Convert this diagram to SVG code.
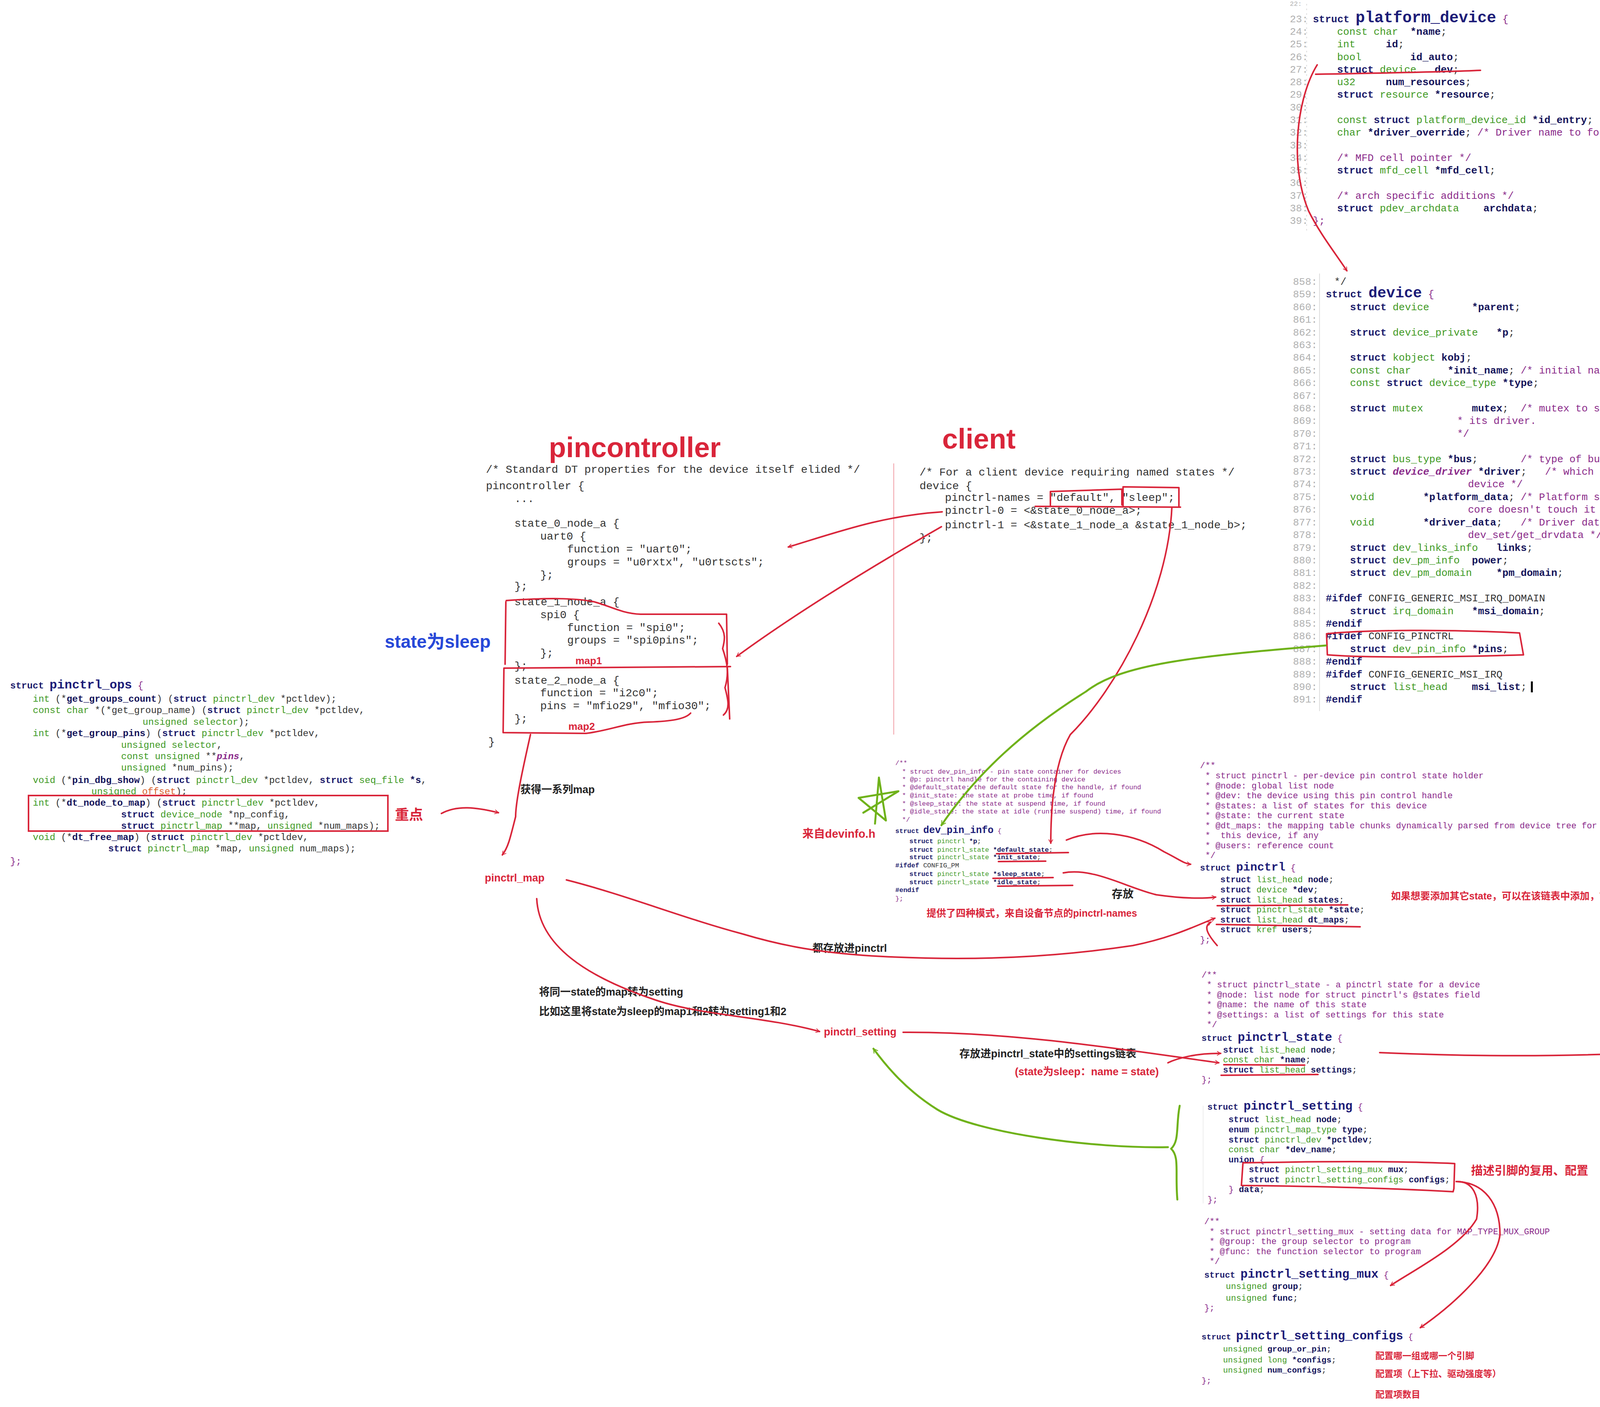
<svg xmlns="http://www.w3.org/2000/svg" width="5721" height="3601" viewBox="0 0 5721 3601">
<style>
text{font-family:"Liberation Mono","DejaVu Sans Mono",monospace;white-space:pre}
.c26{font-size:26px}.c24{font-size:24px}.c22{font-size:22px}.c21{font-size:21px}.c20{font-size:20px}.c17{font-size:17px}
.k{fill:#1b1b6b;font-weight:bold}.t{fill:#3f9a24}.f{fill:#14145a;font-weight:bold}.cm{fill:#8a2a8a}.p{fill:#333}
.ln{fill:#b0b0b0}.ti{fill:#1c1c78;font-weight:bold}
.dt{font-family:"Liberation Mono",monospace;font-size:28px;fill:#333}
.cn{font-family:"Liberation Sans","Noto Sans CJK SC",sans-serif;font-weight:bold}
.r{fill:#d9253a}.b{fill:#222}
.rl{fill:none;stroke:#d9253a;stroke-width:4;stroke-linecap:round;stroke-linejoin:round}
.gl{fill:none;stroke:#6fb21a;stroke-width:5;stroke-linecap:round;stroke-linejoin:round}
.box{fill:#fff;stroke:#d9253a;stroke-width:5}
.bt{font-family:"Open Sans","Liberation Sans",sans-serif;font-size:30px;fill:#333;text-anchor:middle}
</style>
<defs>
<marker id="ra" viewBox="0 0 20 20" refX="18" refY="10" markerWidth="12" markerHeight="12" orient="auto" markerUnits="userSpaceOnUse"><path d="M2,1 L18,10 L2,19" fill="none" stroke="#d9253a" stroke-width="3"/></marker>
<marker id="ga" viewBox="0 0 20 20" refX="18" refY="10" markerWidth="14" markerHeight="14" orient="auto" markerUnits="userSpaceOnUse"><path d="M2,1 L18,10 L2,19" fill="none" stroke="#6fb21a" stroke-width="3"/></marker>
<marker id="sa" viewBox="0 0 10 10" refX="9" refY="5" markerWidth="30" markerHeight="30" orient="auto" markerUnits="userSpaceOnUse"><path d="M0,0 L10,5 L0,10 Z" fill="#555"/></marker>
</defs>

<g id="platform_device" class="c26">
<line x1="3345" y1="10" x2="3345" y2="590" stroke="#ddd" stroke-width="2" stroke-dasharray="4 8"/>
<text x="3302" y="15" class="ln c17">22:</text>
<text x="3302" y="57"><tspan class="ln">23:</tspan><tspan x="3361" class="k">struct </tspan><tspan class="ti" font-size="40">platform_device</tspan><tspan class="cm"> {</tspan></text>
<text x="3302" y="89"><tspan class="ln">24:</tspan><tspan x="3423" class="t">const char  </tspan><tspan class="f">*name</tspan><tspan class="p">;</tspan></text>
<text x="3302" y="121"><tspan class="ln">25:</tspan><tspan x="3423" class="t">int     </tspan><tspan class="f">id</tspan><tspan class="p">;</tspan></text>
<text x="3302" y="154"><tspan class="ln">26:</tspan><tspan x="3423" class="t">bool        </tspan><tspan class="f">id_auto</tspan><tspan class="p">;</tspan></text>
<text x="3302" y="186"><tspan class="ln">27:</tspan><tspan x="3423" class="k">struct </tspan><tspan class="t">device   </tspan><tspan class="f">dev</tspan><tspan class="p">;</tspan></text>
<text x="3302" y="218"><tspan class="ln">28:</tspan><tspan x="3423" class="t">u32     </tspan><tspan class="f">num_resources</tspan><tspan class="p">;</tspan></text>
<text x="3302" y="250"><tspan class="ln">29:</tspan><tspan x="3423" class="k">struct </tspan><tspan class="t">resource </tspan><tspan class="f">*resource</tspan><tspan class="p">;</tspan></text>
<text x="3302" y="283" class="ln">30:</text>
<text x="3302" y="315"><tspan class="ln">31:</tspan><tspan x="3423" class="t">const </tspan><tspan class="k">struct </tspan><tspan class="t">platform_device_id </tspan><tspan class="f">*id_entry</tspan><tspan class="p">;</tspan></text>
<text x="3302" y="347"><tspan class="ln">32:</tspan><tspan x="3423" class="t">char </tspan><tspan class="f">*driver_override</tspan><tspan class="p">; </tspan><tspan class="cm">/* Driver name to force a match */</tspan></text>
<text x="3302" y="380" class="ln">33:</text>
<text x="3302" y="412"><tspan class="ln">34:</tspan><tspan x="3423" class="cm">/* MFD cell pointer */</tspan></text>
<text x="3302" y="444"><tspan class="ln">35:</tspan><tspan x="3423" class="k">struct </tspan><tspan class="t">mfd_cell </tspan><tspan class="f">*mfd_cell</tspan><tspan class="p">;</tspan></text>
<text x="3302" y="476" class="ln">36:</text>
<text x="3302" y="509"><tspan class="ln">37:</tspan><tspan x="3423" class="cm">/* arch specific additions */</tspan></text>
<text x="3302" y="541"><tspan class="ln">38:</tspan><tspan x="3423" class="k">struct </tspan><tspan class="t">pdev_archdata    </tspan><tspan class="f">archdata</tspan><tspan class="p">;</tspan></text>
<text x="3302" y="573"><tspan class="ln">39:</tspan><tspan x="3361" class="cm">};</tspan></text>
</g>

<g id="device" class="c26">
<line x1="3378" y1="700" x2="3378" y2="1820" stroke="#ddd" stroke-width="2"/>
<text x="3310" y="729"><tspan class="ln">858:</tspan><tspan x="3400" class="p"> */</tspan></text>
<text x="3310" y="761"><tspan class="ln">859:</tspan><tspan x="3394" class="k">struct </tspan><tspan class="ti" font-size="38">device</tspan><tspan class="cm"> {</tspan></text>
<text x="3310" y="794"><tspan class="ln">860:</tspan><tspan x="3456" class="k">struct </tspan><tspan class="t">device       </tspan><tspan class="f">*parent</tspan><tspan class="p">;</tspan></text>
<text x="3310" y="826" class="ln">861:</text>
<text x="3310" y="859"><tspan class="ln">862:</tspan><tspan x="3456" class="k">struct </tspan><tspan class="t">device_private   </tspan><tspan class="f">*p</tspan><tspan class="p">;</tspan></text>
<text x="3310" y="891" class="ln">863:</text>
<text x="3310" y="923"><tspan class="ln">864:</tspan><tspan x="3456" class="k">struct </tspan><tspan class="t">kobject </tspan><tspan class="f">kobj</tspan><tspan class="p">;</tspan></text>
<text x="3310" y="956"><tspan class="ln">865:</tspan><tspan x="3456" class="t">const char      </tspan><tspan class="f">*init_name</tspan><tspan class="p">; </tspan><tspan class="cm">/* initial name of the device */</tspan></text>
<text x="3310" y="988"><tspan class="ln">866:</tspan><tspan x="3456" class="t">const </tspan><tspan class="k">struct </tspan><tspan class="t">device_type </tspan><tspan class="f">*type</tspan><tspan class="p">;</tspan></text>
<text x="3310" y="1021" class="ln">867:</text>
<text x="3310" y="1053"><tspan class="ln">868:</tspan><tspan x="3456" class="k">struct </tspan><tspan class="t">mutex        </tspan><tspan class="f">mutex</tspan><tspan class="p">;  </tspan><tspan class="cm">/* mutex to synchronize calls to</tspan></text>
<text x="3310" y="1085"><tspan class="ln">869:</tspan><tspan x="3730" class="cm">* its driver.</tspan></text>
<text x="3310" y="1118"><tspan class="ln">870:</tspan><tspan x="3730" class="cm">*/</tspan></text>
<text x="3310" y="1150" class="ln">871:</text>
<text x="3310" y="1183"><tspan class="ln">872:</tspan><tspan x="3456" class="k">struct </tspan><tspan class="t">bus_type </tspan><tspan class="f">*bus</tspan><tspan class="p">;       </tspan><tspan class="cm">/* type of bus device is on */</tspan></text>
<text x="3310" y="1215"><tspan class="ln">873:</tspan><tspan x="3456" class="k">struct </tspan><tspan class="cm" font-style="italic" font-weight="bold">device_driver</tspan><tspan class="f"> *driver</tspan><tspan class="p">;   </tspan><tspan class="cm">/* which driver has allocated this</tspan></text>
<text x="3310" y="1247"><tspan class="ln">874:</tspan><tspan x="3758" class="cm">device */</tspan></text>
<text x="3310" y="1280"><tspan class="ln">875:</tspan><tspan x="3456" class="t">void        </tspan><tspan class="f">*platform_data</tspan><tspan class="p">; </tspan><tspan class="cm">/* Platform specific data, device</tspan></text>
<text x="3310" y="1312"><tspan class="ln">876:</tspan><tspan x="3758" class="cm">core doesn't touch it */</tspan></text>
<text x="3310" y="1345"><tspan class="ln">877:</tspan><tspan x="3456" class="t">void        </tspan><tspan class="f">*driver_data</tspan><tspan class="p">;   </tspan><tspan class="cm">/* Driver data, set and get with</tspan></text>
<text x="3310" y="1377"><tspan class="ln">878:</tspan><tspan x="3758" class="cm">dev_set/get_drvdata */</tspan></text>
<text x="3310" y="1410"><tspan class="ln">879:</tspan><tspan x="3456" class="k">struct </tspan><tspan class="t">dev_links_info   </tspan><tspan class="f">links</tspan><tspan class="p">;</tspan></text>
<text x="3310" y="1442"><tspan class="ln">880:</tspan><tspan x="3456" class="k">struct </tspan><tspan class="t">dev_pm_info  </tspan><tspan class="f">power</tspan><tspan class="p">;</tspan></text>
<text x="3310" y="1474"><tspan class="ln">881:</tspan><tspan x="3456" class="k">struct </tspan><tspan class="t">dev_pm_domain    </tspan><tspan class="f">*pm_domain</tspan><tspan class="p">;</tspan></text>
<text x="3310" y="1507" class="ln">882:</text>
<text x="3310" y="1539"><tspan class="ln">883:</tspan><tspan x="3394" class="k">#ifdef </tspan><tspan class="p">CONFIG_GENERIC_MSI_IRQ_DOMAIN</tspan></text>
<text x="3310" y="1572"><tspan class="ln">884:</tspan><tspan x="3456" class="k">struct </tspan><tspan class="t">irq_domain   </tspan><tspan class="f">*msi_domain</tspan><tspan class="p">;</tspan></text>
<text x="3310" y="1604"><tspan class="ln">885:</tspan><tspan x="3394" class="k">#endif</tspan></text>
<text x="3310" y="1636"><tspan class="ln">886:</tspan><tspan x="3394" class="k">#ifdef </tspan><tspan class="p">CONFIG_PINCTRL</tspan></text>
<text x="3310" y="1669"><tspan class="ln">887:</tspan><tspan x="3456" class="k">struct </tspan><tspan class="t">dev_pin_info </tspan><tspan class="f">*pins</tspan><tspan class="p">;</tspan></text>
<text x="3310" y="1701"><tspan class="ln">888:</tspan><tspan x="3394" class="k">#endif</tspan></text>
<text x="3310" y="1734"><tspan class="ln">889:</tspan><tspan x="3394" class="k">#ifdef </tspan><tspan class="p">CONFIG_GENERIC_MSI_IRQ</tspan></text>
<text x="3310" y="1766"><tspan class="ln">890:</tspan><tspan x="3456" class="k">struct </tspan><tspan class="t">list_head    </tspan><tspan class="f">msi_list</tspan><tspan class="p">;</tspan></text>
<rect x="3919" y="1744" width="5" height="28" fill="#000"/>
<text x="3310" y="1798"><tspan class="ln">891:</tspan><tspan x="3394" class="k">#endif</tspan></text>
<path class="rl" d="M3396,1622 C3500,1612 3700,1610 3890,1620 L3900,1676 C3700,1682 3500,1684 3398,1676 Z"/>
</g>

<g id="pincontroller">
<text x="1405" y="1170" class="cn r" font-size="72">pincontroller</text>
<text x="1244" y="1210" class="dt">/* Standard DT properties for the device itself elided */</text>
<text x="1244" y="1252" class="dt">pincontroller {</text>
<text x="1317" y="1285" class="dt">...</text>
<text x="1317" y="1348" class="dt">state_0_node_a {</text>
<text x="1383" y="1381" class="dt">uart0 {</text>
<text x="1452" y="1414" class="dt">function = "uart0";</text>
<text x="1452" y="1447" class="dt">groups = "u0rxtx", "u0rtscts";</text>
<text x="1383" y="1480" class="dt">};</text>
<text x="1317" y="1509" class="dt">};</text>
<text x="1317" y="1549" class="dt">state_1_node_a {</text>
<text x="1383" y="1582" class="dt">spi0 {</text>
<text x="1452" y="1615" class="dt">function = "spi0";</text>
<text x="1452" y="1647" class="dt">groups = "spi0pins";</text>
<text x="1383" y="1680" class="dt">};</text>
<text x="1317" y="1713" class="dt">};</text>
<text x="1317" y="1750" class="dt">state_2_node_a {</text>
<text x="1383" y="1782" class="dt">function = "i2c0";</text>
<text x="1383" y="1815" class="dt">pins = "mfio29", "mfio30";</text>
<text x="1317" y="1848" class="dt">};</text>
<text x="1250" y="1907" class="dt">}</text>
<text x="1473" y="1700" class="cn r" font-size="26">map1</text>
<text x="1455" y="1868" class="cn r" font-size="26">map2</text>
<path class="rl" d="M1296,1537 C1400,1530 1470,1530 1520,1540 C1560,1550 1590,1570 1640,1572 L1860,1572 L1862,1700 M1290,1710 L1870,1706 M1295,1540 L1293,1700"/>
<path class="rl" d="M1290,1712 L1288,1875 L1500,1877 C1560,1870 1600,1850 1660,1848 C1720,1846 1755,1840 1768,1825 M1862,1708 L1868,1840"/>
<path class="rl" d="M1840,1595 C1860,1620 1855,1640 1850,1660 C1860,1690 1868,1720 1856,1760 C1864,1790 1870,1815 1852,1830"/>
</g>

<g id="client">
<line x1="2288" y1="1186" x2="2288" y2="1880" stroke="#f2a0a8" stroke-width="2"/>
<text x="2412" y="1148" class="cn r" font-size="72">client</text>
<text x="2354" y="1217" class="dt">/* For a client device requiring named states */</text>
<text x="2354" y="1252" class="dt">device {</text>
<text x="2419" y="1282" class="dt">pinctrl-names = "default", "sleep";</text>
<text x="2419" y="1315" class="dt">pinctrl-0 = &lt;&amp;state_0_node_a&gt;;</text>
<text x="2419" y="1352" class="dt">pinctrl-1 = &lt;&amp;state_1_node_a &amp;state_1_node_b&gt;;</text>
<text x="2354" y="1385" class="dt">};</text>
<path class="rl" d="M2689,1258 L2872,1252 L2872,1292 M2689,1258 L2689,1296 M2875,1246 L3018,1248 L3018,1296 M2875,1246 L2875,1294 M2650,1296 L3022,1298"/>
</g>

<g id="pinctrl_ops" class="c24">
<text x="26" y="1762"><tspan class="k">struct </tspan><tspan class="ti" font-size="32">pinctrl_ops</tspan><tspan class="cm"> {</tspan></text>
<text x="84" y="1796"><tspan class="t">int </tspan><tspan class="p">(*</tspan><tspan class="f">get_groups_count</tspan><tspan class="p">) (</tspan><tspan class="k">struct </tspan><tspan class="t">pinctrl_dev </tspan><tspan class="p">*pctldev);</tspan></text>
<text x="84" y="1825"><tspan class="t">const char </tspan><tspan class="p">*(*get_group_name) (</tspan><tspan class="k">struct </tspan><tspan class="t">pinctrl_dev </tspan><tspan class="p">*pctldev,</tspan></text>
<text x="365" y="1855"><tspan class="t">unsigned selector</tspan><tspan class="p">);</tspan></text>
<text x="84" y="1884"><tspan class="t">int </tspan><tspan class="p">(*</tspan><tspan class="f">get_group_pins</tspan><tspan class="p">) (</tspan><tspan class="k">struct </tspan><tspan class="t">pinctrl_dev </tspan><tspan class="p">*pctldev,</tspan></text>
<text x="310" y="1914"><tspan class="t">unsigned selector</tspan><tspan class="p">,</tspan></text>
<text x="310" y="1943"><tspan class="t">const unsigned </tspan><tspan class="p">**</tspan><tspan class="cm" font-weight="bold" font-style="italic">pins</tspan><tspan class="p">,</tspan></text>
<text x="310" y="1972"><tspan class="t">unsigned </tspan><tspan class="p">*num_pins);</tspan></text>
<text x="84" y="2004"><tspan class="t">void </tspan><tspan class="p">(*</tspan><tspan class="f">pin_dbg_show</tspan><tspan class="p">) (</tspan><tspan class="k">struct </tspan><tspan class="t">pinctrl_dev </tspan><tspan class="p">*pctldev, </tspan><tspan class="k">struct </tspan><tspan class="t">seq_file </tspan><tspan class="f">*s</tspan><tspan class="p">,</tspan></text>
<text x="234" y="2033"><tspan class="t">unsigned </tspan><tspan fill="#d9602a">offset</tspan><tspan class="p">);</tspan></text>
<text x="84" y="2062"><tspan class="t">int </tspan><tspan class="p">(*</tspan><tspan class="f">dt_node_to_map</tspan><tspan class="p">) (</tspan><tspan class="k">struct </tspan><tspan class="t">pinctrl_dev </tspan><tspan class="p">*pctldev,</tspan></text>
<text x="310" y="2092"><tspan class="k">struct </tspan><tspan class="t">device_node </tspan><tspan class="p">*np_config,</tspan></text>
<text x="310" y="2121"><tspan class="k">struct </tspan><tspan class="t">pinctrl_map </tspan><tspan class="p">**map, </tspan><tspan class="t">unsigned </tspan><tspan class="p">*num_maps);</tspan></text>
<text x="84" y="2150"><tspan class="t">void </tspan><tspan class="p">(*</tspan><tspan class="f">dt_free_map</tspan><tspan class="p">) (</tspan><tspan class="k">struct </tspan><tspan class="t">pinctrl_dev </tspan><tspan class="p">*pctldev,</tspan></text>
<text x="277" y="2179"><tspan class="k">struct </tspan><tspan class="t">pinctrl_map </tspan><tspan class="p">*map, </tspan><tspan class="t">unsigned </tspan><tspan class="p">num_maps);</tspan></text>
<text x="26" y="2212" class="cm">};</text>
<rect x="73" y="2036" width="920" height="91" fill="none" stroke="#d9253a" stroke-width="4"/>
<text x="1011" y="2098" class="cn r" font-size="36">重点</text>
</g>

<g id="dev_pin_info" class="c17">
<text x="2292" y="1958" class="cm">/**</text>
<text x="2299" y="1980" class="cm"> * struct dev_pin_info - pin state container for devices</text>
<text x="2299" y="2000" class="cm"> * @p: pinctrl handle for the containing device</text>
<text x="2299" y="2020" class="cm"> * @default_state: the default state for the handle, if found</text>
<text x="2299" y="2041" class="cm"> * @init_state: the state at probe time, if found</text>
<text x="2299" y="2062" class="cm"> * @sleep_state: the state at suspend time, if found</text>
<text x="2299" y="2082" class="cm"> * @idle_state: the state at idle (runtime suspend) time, if found</text>
<text x="2299" y="2103" class="cm"> */</text>
<text x="2292" y="2132"><tspan class="k">struct </tspan><tspan class="ti" font-size="25">dev_pin_info</tspan><tspan class="cm"> {</tspan></text>
<text x="2328" y="2158"><tspan class="k">struct </tspan><tspan class="t">pinctrl </tspan><tspan class="f">*p</tspan><tspan class="p">;</tspan></text>
<text x="2328" y="2180"><tspan class="k">struct </tspan><tspan class="t">pinctrl_state </tspan><tspan class="f">*default_state</tspan><tspan class="p">;</tspan></text>
<text x="2328" y="2199"><tspan class="k">struct </tspan><tspan class="t">pinctrl_state </tspan><tspan class="f">*init_state</tspan><tspan class="p">;</tspan></text>
<text x="2292" y="2220"><tspan class="k">#ifdef </tspan><tspan class="p">CONFIG_PM</tspan></text>
<text x="2328" y="2242"><tspan class="k">struct </tspan><tspan class="t">pinctrl_state </tspan><tspan class="f">*sleep_state</tspan><tspan class="p">;</tspan></text>
<text x="2328" y="2263"><tspan class="k">struct </tspan><tspan class="t">pinctrl_state </tspan><tspan class="f">*idle_state</tspan><tspan class="p">;</tspan></text>
<text x="2292" y="2283" class="k">#endif</text>
<text x="2292" y="2305" class="cm">};</text>
<path class="rl" stroke-width="3" d="M2551,2185 L2735,2182 M2556,2205 L2677,2204 M2542,2248 L2696,2246 M2554,2268 L2746,2266"/>
</g>

<g id="pinctrl" class="c22">
<text x="3072" y="1966" class="cm">/**</text>
<text x="3072" y="1992" class="cm"> * struct pinctrl - per-device pin control state holder</text>
<text x="3072" y="2018" class="cm"> * @node: global list node</text>
<text x="3072" y="2043" class="cm"> * @dev: the device using this pin control handle</text>
<text x="3072" y="2069" class="cm"> * @states: a list of states for this device</text>
<text x="3072" y="2094" class="cm"> * @state: the current state</text>
<text x="3072" y="2120" class="cm"> * @dt_maps: the mapping table chunks dynamically parsed from device tree for</text>
<text x="3072" y="2145" class="cm"> *  this device, if any</text>
<text x="3072" y="2171" class="cm"> * @users: reference count</text>
<text x="3072" y="2196" class="cm"> */</text>
<text x="3072" y="2228"><tspan class="k">struct </tspan><tspan class="ti" font-size="30">pinctrl</tspan><tspan class="cm"> {</tspan></text>
<text x="3124" y="2258"><tspan class="k">struct </tspan><tspan class="t">list_head </tspan><tspan class="f">node</tspan><tspan class="p">;</tspan></text>
<text x="3124" y="2284"><tspan class="k">struct </tspan><tspan class="t">device </tspan><tspan class="f">*dev</tspan><tspan class="p">;</tspan></text>
<text x="3124" y="2310"><tspan class="k">struct </tspan><tspan class="t">list_head </tspan><tspan class="f">states</tspan><tspan class="p">;</tspan></text>
<text x="3124" y="2335"><tspan class="k">struct </tspan><tspan class="t">pinctrl_state </tspan><tspan class="f">*state</tspan><tspan class="p">;</tspan></text>
<text x="3124" y="2361"><tspan class="k">struct </tspan><tspan class="t">list_head </tspan><tspan class="f">dt_maps</tspan><tspan class="p">;</tspan></text>
<text x="3124" y="2386"><tspan class="k">struct </tspan><tspan class="t">kref </tspan><tspan class="f">users</tspan><tspan class="p">;</tspan></text>
<text x="3072" y="2412" class="cm">};</text>
<path class="rl" stroke-width="3" d="M3116,2318 L3450,2316 M3114,2366 L3482,2372"/>
<text x="3561" y="2302" class="cn r" font-size="25">如果想要添加其它state，可以在该链表中添加，前面那四种模式也会存在链表</text>
</g>

<g id="pinctrl_state" class="c22">
<text x="3076" y="2502" class="cm">/**</text>
<text x="3076" y="2527" class="cm"> * struct pinctrl_state - a pinctrl state for a device</text>
<text x="3076" y="2553" class="cm"> * @node: list node for struct pinctrl's @states field</text>
<text x="3076" y="2578" class="cm"> * @name: the name of this state</text>
<text x="3076" y="2604" class="cm"> * @settings: a list of settings for this state</text>
<text x="3076" y="2629" class="cm"> */</text>
<text x="3076" y="2664"><tspan class="k">struct </tspan><tspan class="ti" font-size="31">pinctrl_state</tspan><tspan class="cm"> {</tspan></text>
<text x="3131" y="2694"><tspan class="k">struct </tspan><tspan class="t">list_head </tspan><tspan class="f">node</tspan><tspan class="p">;</tspan></text>
<text x="3131" y="2719"><tspan class="t">const char </tspan><tspan class="f">*name</tspan><tspan class="p">;</tspan></text>
<text x="3131" y="2745"><tspan class="k">struct </tspan><tspan class="t">list_head </tspan><tspan class="f">settings</tspan><tspan class="p">;</tspan></text>
<text x="3076" y="2770" class="cm">};</text>
<path class="rl" stroke-width="3" d="M3133,2725 L3340,2726 M3126,2752 L3374,2750"/>
</g>

<g id="pinctrl_setting" class="c22">
<line x1="3080" y1="2830" x2="3080" y2="3080" stroke="#eee" stroke-width="2"/>
<text x="3091" y="2840"><tspan class="k">struct </tspan><tspan class="ti" font-size="31">pinctrl_setting</tspan><tspan class="cm"> {</tspan></text>
<text x="3145" y="2872"><tspan class="k">struct </tspan><tspan class="t">list_head </tspan><tspan class="f">node</tspan><tspan class="p">;</tspan></text>
<text x="3145" y="2898"><tspan class="k">enum </tspan><tspan class="t">pinctrl_map_type </tspan><tspan class="f">type</tspan><tspan class="p">;</tspan></text>
<text x="3145" y="2924"><tspan class="k">struct </tspan><tspan class="t">pinctrl_dev </tspan><tspan class="f">*pctldev</tspan><tspan class="p">;</tspan></text>
<text x="3145" y="2949"><tspan class="t">const char </tspan><tspan class="f">*dev_name</tspan><tspan class="p">;</tspan></text>
<text x="3145" y="2975"><tspan class="k">union </tspan><tspan class="cm">{</tspan></text>
<text x="3197" y="3000"><tspan class="k">struct </tspan><tspan class="t">pinctrl_setting_mux </tspan><tspan class="f">mux</tspan><tspan class="p">;</tspan></text>
<text x="3197" y="3026"><tspan class="k">struct </tspan><tspan class="t">pinctrl_setting_configs </tspan><tspan class="f">configs</tspan><tspan class="p">;</tspan></text>
<text x="3145" y="3051"><tspan class="cm">} </tspan><tspan class="f">data</tspan><tspan class="p">;</tspan></text>
<text x="3091" y="3077" class="cm">};</text>
<path class="rl" d="M3182,2976 C3400,2972 3600,2972 3724,2978 L3722,3042 L3720,3050 C3550,3040 3350,3036 3178,3034 Z"/>
<text x="3766" y="3006" class="cn r" font-size="30">描述引脚的复用、配置</text>
</g>

<g id="pinctrl_setting_mux" class="c22">
<text x="3083" y="3133" class="cm">/**</text>
<text x="3083" y="3159" class="cm"> * struct pinctrl_setting_mux - setting data for MAP_TYPE_MUX_GROUP</text>
<text x="3083" y="3184" class="cm"> * @group: the group selector to program</text>
<text x="3083" y="3210" class="cm"> * @func: the function selector to program</text>
<text x="3083" y="3235" class="cm"> */</text>
<text x="3083" y="3270"><tspan class="k">struct </tspan><tspan class="ti" font-size="31">pinctrl_setting_mux</tspan><tspan class="cm"> {</tspan></text>
<text x="3138" y="3299"><tspan class="t">unsigned </tspan><tspan class="f">group</tspan><tspan class="p">;</tspan></text>
<text x="3138" y="3329"><tspan class="t">unsigned </tspan><tspan class="f">func</tspan><tspan class="p">;</tspan></text>
<text x="3083" y="3354" class="cm">};</text>
</g>

<g id="pinctrl_setting_configs" class="c21">
<text x="3076" y="3428"><tspan class="k">struct </tspan><tspan class="ti" font-size="31">pinctrl_setting_configs</tspan><tspan class="cm"> {</tspan></text>
<text x="3131" y="3459"><tspan class="t">unsigned </tspan><tspan class="f">group_or_pin</tspan><tspan class="p">;</tspan></text>
<text x="3131" y="3487"><tspan class="t">unsigned long </tspan><tspan class="f">*configs</tspan><tspan class="p">;</tspan></text>
<text x="3131" y="3513"><tspan class="t">unsigned </tspan><tspan class="f">num_configs</tspan><tspan class="p">;</tspan></text>
<text x="3076" y="3540" class="cm">};</text>
<text x="3521" y="3478" class="cn r" font-size="23">配置哪一组或哪一个引脚</text>
<text x="3521" y="3524" class="cn r" font-size="23">配置项（上下拉、驱动强度等）</text>
<text x="3521" y="3577" class="cn r" font-size="23">配置项数目</text>
</g>

<g id="annotations">
<text x="985" y="1658" class="cn" font-size="46" fill="#2748d8">state为sleep</text>
<text x="1332" y="2030" class="cn b" font-size="27">获得一系列map</text>
<text x="1241" y="2256" class="cn r" font-size="27">pinctrl_map</text>
<text x="2080" y="2436" class="cn b" font-size="27">都存放进pinctrl</text>
<text x="1380" y="2548" class="cn b" font-size="27">将同一state的map转为setting</text>
<text x="1380" y="2598" class="cn b" font-size="27">比如这里将state为sleep的map1和2转为setting1和2</text>
<text x="2109" y="2650" class="cn r" font-size="27">pinctrl_setting</text>
<text x="2456" y="2706" class="cn b" font-size="27">存放进pinctrl_state中的settings链表</text>
<text x="2598" y="2752" class="cn r" font-size="27">(state为sleep：name = state)</text>
<text x="2054" y="2144" class="cn r" font-size="29">来自devinfo.h</text>
<text x="2372" y="2346" class="cn r" font-size="25">提供了四种模式，来自设备节点的pinctrl-names</text>
<text x="2846" y="2298" class="cn b" font-size="28">存放</text>
<text x="4433" y="2206" class="cn b" font-size="26">states</text>
</g>

<g id="state_default"><rect class="box" x="4481" y="2233" width="175" height="139"/><text class="bt" x="4568" y="2312">default</text></g>
<g id="state_init"><rect class="box" x="4744" y="2233" width="175" height="139"/><text class="bt" x="4831" y="2312">init</text></g>
<g id="state_sleep"><rect class="box" x="5021" y="2233" width="175" height="139"/><text class="bt" x="5108" y="2312">sleep</text></g>
<g id="state_idle"><rect class="box" x="5280" y="2233" width="175" height="139"/><text class="bt" x="5367" y="2312">idle</text></g>
<g id="state_order"><rect class="box" x="5532" y="2233" width="175" height="139"/><text class="bt" x="5619" y="2312">order</text></g>

<g id="connectors">
<g stroke="#555" stroke-width="9" marker-end="url(#sa)">
<line x1="4658" y1="2303" x2="4740" y2="2303"/>
<line x1="4921" y1="2303" x2="5017" y2="2303"/>
<line x1="5198" y1="2303" x2="5276" y2="2303"/>
<line x1="5457" y1="2303" x2="5528" y2="2303"/>
</g>
<path class="rl" d="M3368,190 C3600,186 3700,184 3790,180"/>
<path class="rl" marker-end="url(#ra)" d="M3372,166 C3320,250 3300,420 3350,540 C3380,600 3420,650 3448,693"/>
<path class="rl" marker-end="url(#ra)" d="M2412,1310 C2260,1320 2150,1360 2018,1400"/>
<path class="rl" marker-end="url(#ra)" d="M2410,1348 C2250,1440 2050,1560 1886,1680"/>
<path class="rl" marker-end="url(#ra)" d="M3000,1298 C2990,1520 2860,1760 2740,1880 C2700,1950 2690,2060 2690,2158"/>
<path class="gl" marker-end="url(#ga)" d="M3394,1652 C3050,1680 2870,1700 2780,1770 C2620,1870 2500,1980 2410,2112"/>
<path class="gl" d="M2250,1990 L2240,2108 M2250,1990 L2268,2100 L2198,2042 L2300,2025 L2210,2080"/>
<path class="rl" marker-end="url(#ra)" d="M1130,2082 C1170,2060 1220,2066 1276,2080"/>
<path class="rl" marker-end="url(#ra)" d="M1358,1880 C1340,1960 1320,2050 1320,2090 C1305,2150 1300,2170 1286,2188"/>
<path class="rl" marker-end="url(#ra)" d="M1450,2252 C1600,2290 1750,2350 1900,2390 C2000,2420 2100,2440 2260,2448 C2500,2460 2700,2450 2900,2420 C3000,2400 3060,2370 3110,2350"/>
<path class="rl" marker-end="url(#ra)" d="M1374,2300 C1380,2420 1500,2500 1680,2560 C1800,2600 1950,2600 2098,2640"/>
<path class="rl" marker-end="url(#ra)" d="M2312,2642 C2600,2640 2900,2690 3120,2720"/>
<path class="rl" marker-end="url(#ra)" d="M2990,2720 C3010,2710 3060,2695 3125,2696"/>
<path class="rl" marker-end="url(#ra)" d="M3532,2694 C3900,2710 4300,2705 4700,2650 C4900,2600 5050,2500 5100,2410"/>
<path class="gl" marker-end="url(#ga)" d="M2990,2936 C2800,2940 2500,2900 2400,2840 C2320,2790 2270,2730 2236,2684"/>
<path class="gl" d="M3020,2830 C3010,2880 3020,2920 2998,2940 C3020,2960 3008,3000 3014,3070"/>
<path class="rl" marker-end="url(#ra)" d="M2730,2150 C2800,2120 2900,2130 2980,2180 C3020,2200 3030,2210 3048,2212"/>
<path class="rl" marker-end="url(#ra)" d="M2722,2234 C2800,2220 2880,2270 2960,2290 C3030,2300 3080,2300 3112,2296"/>
<path class="rl" marker-end="url(#ra)" d="M3116,2420 C3090,2390 3080,2370 3100,2360"/>
<path class="rl" marker-end="url(#ra)" d="M3728,3024 C3770,3022 3790,3060 3780,3120 C3740,3190 3620,3250 3560,3290"/>
<path class="rl" marker-end="url(#ra)" d="M3728,3024 C3800,3026 3840,3080 3840,3160 C3830,3240 3720,3340 3636,3398"/>
</g>
</svg>
